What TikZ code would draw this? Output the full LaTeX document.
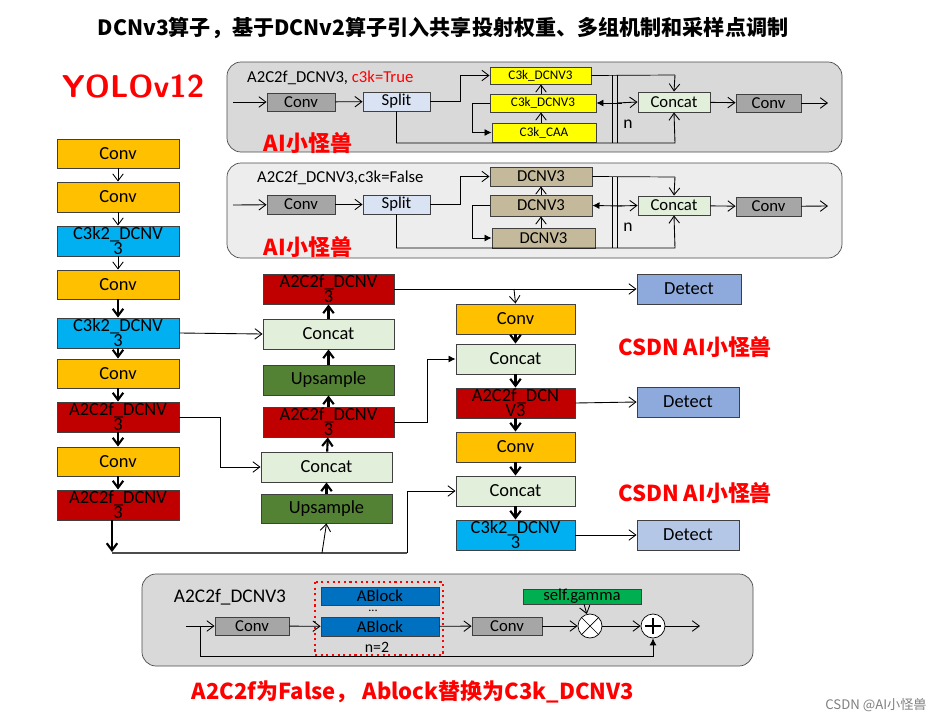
\documentclass[tikz,border=0pt]{standalone}
\usepackage{fontspec}
\setmainfont{Carlito}
\newfontfamily\cjk{Noto Sans CJK SC}
\usetikzlibrary{arrows.meta,calc}
\definecolor{gy}{HTML}{A6A6A6}
\definecolor{pan}{HTML}{D9D9D9}
\definecolor{pan2}{HTML}{EDEDED}
\definecolor{spl}{HTML}{DAE3F3}
\definecolor{cc}{HTML}{E2EFDA}
\definecolor{yl}{HTML}{FFFF00}
\definecolor{tan}{HTML}{C4B99A}
\definecolor{og}{HTML}{FFC000}
\definecolor{cy}{HTML}{00B0F0}
\definecolor{dr}{HTML}{C00000}
\definecolor{gr}{HTML}{548235}
\definecolor{db}{HTML}{8EA9DB}
\definecolor{lb}{HTML}{B4C7E7}
\definecolor{ab}{HTML}{0070C0}
\definecolor{sg}{HTML}{00B050}
\tikzset{
 box/.style={draw=black!75,line width=0.5pt,inner sep=0pt,align=center,font=\fontsize{10.5}{8.5}\selectfont},
 sbox/.style={box,font=\fontsize{9.5}{9}\selectfont},
 ar/.style={-{Straight Barb[length=4pt,width=6pt]},line width=0.5pt},
 tk/.style={-{Straight Barb[length=4pt,width=6pt]},line width=1.2pt},
 fa/.style={-{Latex[length=4pt,width=4pt]},line width=0.5pt},
 redt/.style={text=red,font=\cjk\bfseries\fontsize{12.5}{13}\selectfont},
}
\newcommand\B[8][box]{\node[#1,fill=#7,minimum width={(#5-#3)*0.02cm},minimum height={(#6-#4)*0.02cm}] (#2) at ({(#3+#5)/2},{(#4+#6)/2}) {#8};}
\begin{document}
\begin{tikzpicture}[x=0.02cm,y=-0.02cm]
\useasboundingbox (0,0) rectangle (947,720);
\fill[white] (0,0) rectangle (947,720);
\node[font=\cjk\bfseries\fontsize{12}{12}\selectfont] (title) at (443,28) {DCNv3算子，基于DCNv2算子引入共享投射权重、多组机制和采样点调制};
\node[text=red,font=\sffamily\bfseries\fontsize{18}{18}\selectfont] (yolo) at (133,87) {YOLOv12};
% panel 1
\draw[rounded corners=8pt,fill=pan,draw=black!70] (227,62) rectangle (842,152);
\node[anchor=west,font=\fontsize{9.5}{9}\selectfont] (t1) at (241,78) {A2C2f\_DCNV3, \textcolor{red}{c3k=True}};
\B[sbox]{c1}{267}{93}{335}{111}{gy}{Conv}
\B[sbox]{s1}{363}{92}{430}{111}{spl}{Split}
\B[sbox]{k1}{490}{67}{591}{84}{yl}{\fontsize{7.5}{7}\selectfont C3k\_DCNV3}
\B[sbox]{k2}{490}{94}{596}{112}{yl}{\fontsize{7.5}{7}\selectfont C3k\_DCNV3}
\B[sbox]{k3}{492}{123}{596}{142}{yl}{\fontsize{7.5}{7}\selectfont C3k\_CAA}
\B[sbox]{q1}{638}{92}{710}{112}{cc}{Concat}
\B[sbox]{o1}{736}{94}{801}{112}{gy}{Conv}
\coordinate (i1) at (233,102); \coordinate (e1) at (828,103);
\draw[ar] (i1) -- (c1); \draw[ar] (c1) -- (s1);
\draw[ar] (s1.east) -- ++(30,0) |- (k1.west);
\draw (k1.east) -- (675,75); \draw[ar] (675,75) -- (q1.north);
\draw[ar] (s1.south) |- (675,143) -- (q1.south);
\draw (612,75) -- (612,143); \draw (617,75) -- (617,143);
\draw[fa] (622,103) -- (k2.east); \draw[ar] (617,103) -- (q1.west);
\draw[fa] (k2.west) -- ++(-17,0) |- (k3.west);
\draw[ar] (k3.north-|541,0) -- (k2.south-|541,0);
\draw[ar] (k2.north-|541,0) -- (k1.south-|541,0);
\node[font=\fontsize{10}{10}\selectfont] (n1) at (628,124) {n};
\draw[ar] (q1) -- (o1); \draw[ar] (o1) -- (e1);
\node[redt] (w1) at (308,143) {AI小怪兽};
% panel 2
\draw[rounded corners=8pt,fill=pan2,draw=black!70] (227,163) rectangle (842,258);
\node[anchor=west,font=\fontsize{9.5}{9}\selectfont] (t2) at (251,178) {A2C2f\_DCNV3,c3k=False};
\B[sbox]{c2}{267}{195}{335}{214}{gy}{Conv}
\B[sbox]{s2}{363}{195}{430}{214}{spl}{Split}
\B[sbox]{d1}{490}{167}{592}{186}{tan}{DCNV3}
\B[sbox]{d2}{490}{195}{592}{216}{tan}{DCNV3}
\B[sbox]{d3}{492}{228}{595}{248}{tan}{DCNV3}
\B[sbox]{q2}{638}{196}{710}{215}{cc}{Concat}
\B[sbox]{o2}{736}{197}{801}{216}{gy}{Conv}
\coordinate (i2) at (233,205); \coordinate (e2) at (828,206);
\draw[ar] (i2) -- (c2); \draw[ar] (c2) -- (s2);
\draw[ar] (s2.east) -- ++(30,0) |- (d1.west);
\draw (d1.east) -- (675,177); \draw[ar] (675,177) -- (q2.north);
\draw[ar] (s2.south) |- (675,248) -- (q2.south);
\draw (612,177) -- (612,248); \draw (617,177) -- (617,248);
\draw[fa] (622,206) -- (d2.east); \draw[ar] (617,206) -- (q2.west);
\draw[fa] (d2.west) -- ++(-17,0) |- (d3.west);
\draw[ar] (d3.north-|541,0) -- (d2.south-|541,0);
\draw[ar] (d2.north-|541,0) -- (d1.south-|541,0);
\node[font=\fontsize{10}{10}\selectfont] (n2) at (628,227) {n};
\draw[ar] (q2) -- (o2); \draw[ar] (o2) -- (e2);
\node[redt] (w2) at (308,247) {AI小怪兽};
% left column
\B{L1}{57}{139}{179}{168}{og}{Conv}
\B{L2}{57}{182}{179}{212}{og}{Conv}
\B{L3}{57}{226}{179}{256}{cy}{C3k2\_DCNV\\3}
\B{L4}{57}{270}{179}{299}{og}{Conv}
\B{L5}{57}{318}{179}{348}{cy}{C3k2\_DCNV\\3}
\B{L6}{57}{359}{179}{388}{og}{Conv}
\B{L7}{57}{402}{179}{432}{dr}{A2C2f\_DCNV\\3}
\B{L8}{57}{447}{179}{476}{og}{Conv}
\B{L9}{57}{490}{179}{520}{dr}{A2C2f\_DCNV\\3}
\draw[ar] (L1) -- (L2); \draw[ar] (L2) -- (L3); \draw[ar] (L3) -- (L4);
\draw[tk] (L4) -- (L5); \draw[tk] (L5) -- (L6); \draw[tk] (L6) -- (L7);
\draw[tk] (L7) -- (L8); \draw[tk] (L8) -- (L9);
% middle column
\B{M1}{263}{274}{394}{304}{dr}{A2C2f\_DCNV\\3}
\B{M2}{263}{319}{394}{349}{cc}{Concat}
\B{M3}{263}{365}{394}{395}{gr}{Upsample}
\B{M4}{263}{407}{394}{437}{dr}{A2C2f\_DCNV\\3}
\B{M5}{261}{452}{392}{482}{cc}{Concat}
\B{M6}{261}{494}{392}{523}{gr}{Upsample}
\draw[tk] (M6) -- (M5); \draw[tk] (M5) -- (M4); \draw[tk] (M4) -- (M3);
\draw[tk] (M3) -- (M2); \draw[tk] (M2) -- (M1);
% right column
\B{R1}{456}{304}{575}{334}{og}{Conv}
\B{R2}{456}{344}{575}{374}{cc}{Concat}
\B{R3}{456}{388}{575}{418}{dr}{A2C2f\_DCN\\V3}
\B{R4}{456}{432}{575}{462}{og}{Conv}
\B{R5}{456}{476}{575}{506}{cc}{Concat}
\B{R6}{456}{520}{575}{550}{cy}{C3k2\_DCNV\\3}
\draw[tk] (R1) -- (R2); \draw[tk] (R2) -- (R3); \draw[tk] (R3) -- (R4);
\draw[tk] (R4) -- (R5); \draw[tk] (R5) -- (R6);
\B{D1}{637}{274}{741}{304}{db}{Detect}
\B{D2}{637}{387}{739}{417}{db}{Detect}
\B{D3}{637}{520}{739}{550}{lb}{Detect}
\draw[ar] (M1.east) -- (D1.west);
\draw[ar] (514,289) -- (R1.north);
\draw[ar] (R3.east) -- (D2.west);
\draw[ar] (R6.east) -- (D3.west);
\draw[ar] (L5.east) -- (M2.west);
\draw[ar] (L7.east) -- (220,417) |- (M5.west);
\draw[fa] (M4.east) -- (427,422) |- (R2.west);
\draw[tk] (L9.south-|112,0) -- (112,552);
\draw[line width=1pt,black!70] (112,553) -- (407,553);
\draw[ar] (407,553) |- (R5.west);
\draw[ar] (322,553) -- (M6.south);
\node[redt] (w3) at (695,347) {CSDN AI小怪兽};
\node[redt] (w4) at (695,493) {CSDN AI小怪兽};
% bottom panel
\draw[rounded corners=8pt,fill=pan,draw=black!70] (142,574) rectangle (753,666);
\node[font=\fontsize{11}{11}\selectfont] (t3) at (230,597) {A2C2f\_DCNV3};
\B[sbox]{bc1}{215}{617}{289}{635}{gy}{Conv}
\B[sbox]{ab1}{321}{587}{439}{605}{ab}{ABlock}
\B[sbox]{ab2}{321}{617}{439}{636}{ab}{ABlock}
\node[font=\fontsize{7}{7}\selectfont,inner sep=0pt] (dots) at (373,611) {...};
\node[font=\fontsize{9}{9}\selectfont] (nn) at (377,647) {n=2};
\draw[red,dotted,line width=1.2pt] (315,582) rectangle (443,655);
\B[sbox]{bc2}{472}{617}{542}{635}{gy}{Conv}
\B[sbox]{sg}{523}{589}{641}{604}{sg}{self.gamma}
\node[draw,circle,minimum size={24*0.02cm},inner sep=0pt,fill=white] (mul) at (590,626) {};
\draw (mul.north west) -- (mul.south east) (mul.north east) -- (mul.south west);
\node[draw,circle,minimum size={24*0.02cm},inner sep=0pt,fill=white] (pl) at (653,626) {};
\draw[line width=1pt] ($(pl.center)+(-8,0)$) -- ($(pl.center)+(8,0)$) ($(pl.center)+(0,-8)$) -- ($(pl.center)+(0,8)$);
\coordinate (bi) at (186,626); \coordinate (bo) at (700,626);
\draw[ar] (bi) -- (bc1); \draw[ar] (bc1) -- (ab2); \draw[ar] (ab2) -- (bc2);
\draw[ar] (bc2) -- (mul); \draw[ar] (sg) -- (mul); \draw[ar] (mul) -- (pl); \draw[ar] (pl) -- (bo);
\draw[fa] (200,626) |- (653,656) -- (pl.south);
\node[redt] (w5) at (413,692) {A2C2f为False，~Ablock替换为C3k\_DCNV3};
\node[text=gray,font=\cjk\fontsize{7.5}{8}\selectfont] (wm) at (876,705) {CSDN @AI小怪兽};
\end{tikzpicture}
\end{document}
